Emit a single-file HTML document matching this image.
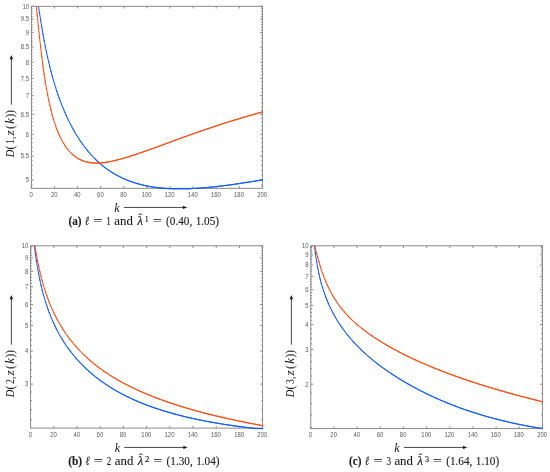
<!DOCTYPE html>
<html lang="en"><head><meta charset="utf-8"><title>Figure</title>
<style>
html,body{margin:0;padding:0;background:#fff}
body{width:550px;height:472px;overflow:hidden}
svg{display:block}
.tk{font-family:"Liberation Sans",sans-serif;font-size:6.3px;fill:#585858}
.yl{font-family:"Liberation Serif",serif;font-size:12.2px;fill:#1a1a1a;font-style:italic}
.cap{font-family:"Liberation Serif",serif;font-size:12.4px;fill:#1a1a1a;stroke:#1a1a1a;stroke-width:0.12px}
.ax{stroke:#7e7e7e;stroke-width:0.9;fill:none}
.cv{fill:none;stroke-width:1.0;stroke-linejoin:round;stroke-linecap:butt}
</style></head><body>
<svg width="550" height="472" viewBox="0 0 550 472">
<rect width="550" height="472" fill="#fff"/>
<defs><marker id="mb" viewBox="-1 -1 2 2" markerWidth="2" markerHeight="2" markerUnits="userSpaceOnUse" refX="0" refY="0"><circle r="0.7" fill="#0d5bff"/></marker><marker id="mr" viewBox="-1 -1 2 2" markerWidth="2" markerHeight="2" markerUnits="userSpaceOnUse" refX="0" refY="0"><circle r="0.7" fill="#ff4a0d"/></marker></defs>
<g>
<path class="ax" d="M31.40,188.30v-2.2 M31.40,6.30v2.2 M54.50,188.30v-2.2 M54.50,6.30v2.2 M77.60,188.30v-2.2 M77.60,6.30v2.2 M100.70,188.30v-2.2 M100.70,6.30v2.2 M123.80,188.30v-2.2 M123.80,6.30v2.2 M146.90,188.30v-2.2 M146.90,6.30v2.2 M170.00,188.30v-2.2 M170.00,6.30v2.2 M193.10,188.30v-2.2 M193.10,6.30v2.2 M216.20,188.30v-2.2 M216.20,6.30v2.2 M239.30,188.30v-2.2 M239.30,6.30v2.2 M262.40,188.30v-2.2 M262.40,6.30v2.2 M31.40,185.06h1.3 M262.40,185.06h-1.3 M31.40,179.99h2.4 M262.40,179.99h-2.4 M31.40,175.03h1.3 M262.40,175.03h-1.3 M31.40,170.17h1.3 M262.40,170.17h-1.3 M31.40,165.39h1.3 M262.40,165.39h-1.3 M31.40,160.71h1.3 M262.40,160.71h-1.3 M31.40,156.11h2.4 M262.40,156.11h-2.4 M31.40,151.60h1.3 M262.40,151.60h-1.3 M31.40,147.16h1.3 M262.40,147.16h-1.3 M31.40,142.80h1.3 M262.40,142.80h-1.3 M31.40,138.52h1.3 M262.40,138.52h-1.3 M31.40,134.31h2.4 M262.40,134.31h-2.4 M31.40,130.16h1.3 M262.40,130.16h-1.3 M31.40,126.09h1.3 M262.40,126.09h-1.3 M31.40,122.08h1.3 M262.40,122.08h-1.3 M31.40,118.13h1.3 M262.40,118.13h-1.3 M31.40,114.25h2.4 M262.40,114.25h-2.4 M31.40,110.42h1.3 M262.40,110.42h-1.3 M31.40,106.65h1.3 M262.40,106.65h-1.3 M31.40,102.94h1.3 M262.40,102.94h-1.3 M31.40,99.28h1.3 M262.40,99.28h-1.3 M31.40,95.68h2.4 M262.40,95.68h-2.4 M31.40,92.12h1.3 M262.40,92.12h-1.3 M31.40,88.62h1.3 M262.40,88.62h-1.3 M31.40,85.16h1.3 M262.40,85.16h-1.3 M31.40,81.75h1.3 M262.40,81.75h-1.3 M31.40,78.39h2.4 M262.40,78.39h-2.4 M31.40,75.07h1.3 M262.40,75.07h-1.3 M31.40,71.79h1.3 M262.40,71.79h-1.3 M31.40,68.56h1.3 M262.40,68.56h-1.3 M31.40,65.37h1.3 M262.40,65.37h-1.3 M31.40,62.22h2.4 M262.40,62.22h-2.4 M31.40,59.10h1.3 M262.40,59.10h-1.3 M31.40,56.03h1.3 M262.40,56.03h-1.3 M31.40,52.99h1.3 M262.40,52.99h-1.3 M31.40,49.99h1.3 M262.40,49.99h-1.3 M31.40,47.03h2.4 M262.40,47.03h-2.4 M31.40,44.09h1.3 M262.40,44.09h-1.3 M31.40,41.20h1.3 M262.40,41.20h-1.3 M31.40,38.33h1.3 M262.40,38.33h-1.3 M31.40,35.50h1.3 M262.40,35.50h-1.3 M31.40,32.70h2.4 M262.40,32.70h-2.4 M31.40,29.93h1.3 M262.40,29.93h-1.3 M31.40,27.19h1.3 M262.40,27.19h-1.3 M31.40,24.49h1.3 M262.40,24.49h-1.3 M31.40,21.81h1.3 M262.40,21.81h-1.3 M31.40,19.15h2.4 M262.40,19.15h-2.4 M31.40,16.53h1.3 M262.40,16.53h-1.3 M31.40,13.93h1.3 M262.40,13.93h-1.3 M31.40,11.36h1.3 M262.40,11.36h-1.3 M31.40,8.82h1.3 M262.40,8.82h-1.3 M31.40,6.30h2.4 M262.40,6.30h-2.4"/>
<rect class="ax" x="31.40" y="6.30" width="231.00" height="182.00"/>
<path class="cv" stroke="#0d5bff" marker-mid="url(#mb)" marker-end="url(#mb)" d="M38.40,6.30 L39.48,12.52 L40.64,20.10 L41.79,27.25 L42.95,33.99 L44.10,40.33 L45.26,46.30 L46.41,51.93 L47.57,57.25 L48.72,62.28 L49.88,67.05 L51.03,71.58 L52.19,75.88 L53.34,79.98 L54.50,83.89 L55.65,87.63 L56.81,91.20 L57.96,94.62 L59.12,97.90 L60.27,101.04 L61.43,104.07 L62.58,106.97 L63.74,109.77 L64.89,112.47 L66.05,115.07 L67.20,117.58 L68.36,120.00 L69.51,122.34 L70.67,124.61 L71.82,126.80 L72.98,128.92 L74.13,130.98 L75.29,132.97 L76.44,134.90 L77.60,136.77 L78.75,138.58 L79.91,140.33 L81.06,142.03 L82.22,143.68 L83.38,145.27 L84.53,146.82 L85.68,148.32 L86.84,149.77 L87.99,151.18 L89.15,152.55 L90.30,153.87 L91.46,155.15 L92.61,156.40 L93.77,157.60 L94.92,158.77 L96.08,159.91 L97.23,161.00 L98.39,162.07 L99.54,163.10 L100.70,164.10 L101.85,165.07 L103.01,166.01 L104.16,166.92 L105.32,167.81 L106.47,168.66 L107.63,169.49 L108.78,170.30 L109.94,171.07 L111.09,171.83 L112.25,172.56 L113.40,173.26 L114.56,173.95 L115.71,174.61 L116.87,175.25 L118.02,175.87 L119.18,176.47 L120.33,177.05 L121.49,177.61 L122.64,178.15 L123.80,178.67 L124.95,179.17 L126.11,179.66 L127.26,180.13 L128.42,180.59 L129.57,181.02 L130.73,181.45 L131.88,181.85 L133.04,182.24 L134.19,182.62 L135.35,182.98 L136.50,183.33 L137.66,183.67 L138.81,183.99 L139.97,184.30 L141.12,184.60 L142.28,184.88 L143.43,185.15 L144.59,185.42 L145.74,185.66 L146.90,185.90 L148.05,186.13 L149.21,186.35 L150.36,186.55 L151.52,186.75 L152.67,186.93 L153.83,187.11 L154.98,187.28 L156.14,187.43 L157.29,187.58 L158.45,187.72 L159.60,187.85 L160.76,187.97 L161.91,188.08 L163.07,188.19 L164.22,188.28 L165.38,188.37 L166.53,188.45 L167.69,188.52 L168.84,188.59 L170.00,188.64 L171.15,188.70 L172.31,188.70 L173.46,188.70 L174.62,188.70 L175.77,188.70 L176.93,188.70 L178.08,188.70 L179.24,188.70 L180.39,188.70 L181.55,188.70 L182.70,188.70 L183.86,188.70 L185.01,188.70 L186.17,188.70 L187.32,188.70 L188.48,188.70 L189.63,188.66 L190.79,188.61 L191.94,188.56 L193.10,188.51 L194.25,188.44 L195.41,188.38 L196.56,188.31 L197.72,188.24 L198.87,188.16 L200.03,188.08 L201.18,187.99 L202.34,187.90 L203.49,187.81 L204.65,187.72 L205.80,187.62 L206.96,187.52 L208.11,187.41 L209.27,187.30 L210.42,187.19 L211.58,187.07 L212.73,186.96 L213.89,186.83 L215.04,186.71 L216.20,186.58 L217.35,186.45 L218.51,186.32 L219.66,186.19 L220.82,186.05 L221.97,185.91 L223.13,185.77 L224.28,185.62 L225.44,185.48 L226.59,185.33 L227.75,185.18 L228.90,185.02 L230.06,184.87 L231.21,184.71 L232.37,184.55 L233.52,184.39 L234.68,184.22 L235.83,184.06 L236.99,183.89 L238.14,183.72 L239.30,183.55 L240.45,183.38 L241.61,183.20 L242.76,183.03 L243.92,182.85 L245.07,182.67 L246.23,182.49 L247.38,182.31 L248.54,182.12 L249.69,181.94 L250.85,181.75 L252.00,181.56 L253.16,181.37 L254.31,181.18 L255.47,180.99 L256.62,180.80 L257.78,180.60 L258.93,180.41 L260.09,180.21 L261.24,180.01 L262.40,179.81"/>
<path class="cv" stroke="#ff4a0d" marker-mid="url(#mr)" marker-end="url(#mr)" d="M36.20,6.30 L37.17,14.32 L38.33,25.70 L39.48,36.79 L40.64,47.22 L41.79,56.89 L42.95,65.78 L44.10,73.93 L45.26,81.39 L46.41,88.22 L47.57,94.48 L48.72,100.22 L49.88,105.48 L51.03,110.30 L52.19,114.74 L53.34,118.80 L54.50,122.54 L55.65,125.98 L56.81,129.14 L57.96,132.06 L59.12,134.75 L60.27,137.24 L61.43,139.54 L62.58,141.66 L63.74,143.62 L64.89,145.44 L66.05,147.12 L67.20,148.68 L68.36,150.12 L69.51,151.44 L70.67,152.67 L71.82,153.80 L72.98,154.84 L74.13,155.80 L75.29,156.67 L76.44,157.48 L77.60,158.21 L78.75,158.88 L79.91,159.49 L81.06,160.04 L82.22,160.53 L83.38,160.97 L84.53,161.36 L85.68,161.70 L86.84,162.00 L87.99,162.26 L89.15,162.48 L90.30,162.65 L91.46,162.80 L92.61,162.90 L93.77,162.98 L94.92,163.03 L96.08,163.04 L97.23,163.04 L98.39,163.00 L99.54,162.94 L100.70,162.87 L101.85,162.77 L103.01,162.65 L104.16,162.51 L105.32,162.36 L106.47,162.18 L107.63,162.00 L108.78,161.80 L109.94,161.58 L111.09,161.35 L112.25,161.11 L113.40,160.86 L114.56,160.60 L115.71,160.33 L116.87,160.05 L118.02,159.75 L119.18,159.45 L120.33,159.15 L121.49,158.83 L122.64,158.51 L123.80,158.18 L124.95,157.84 L126.11,157.50 L127.26,157.15 L128.42,156.79 L129.57,156.43 L130.73,156.07 L131.88,155.70 L133.04,155.33 L134.19,154.95 L135.35,154.57 L136.50,154.18 L137.66,153.80 L138.81,153.40 L139.97,153.01 L141.12,152.61 L142.28,152.21 L143.43,151.81 L144.59,151.41 L145.74,151.00 L146.90,150.59 L148.05,150.18 L149.21,149.77 L150.36,149.35 L151.52,148.94 L152.67,148.52 L153.83,148.10 L154.98,147.68 L156.14,147.26 L157.29,146.84 L158.45,146.42 L159.60,146.00 L160.76,145.58 L161.91,145.15 L163.07,144.73 L164.22,144.30 L165.38,143.88 L166.53,143.45 L167.69,143.03 L168.84,142.60 L170.00,142.18 L171.15,141.75 L172.31,141.33 L173.46,140.90 L174.62,140.48 L175.77,140.06 L176.93,139.63 L178.08,139.21 L179.24,138.79 L180.39,138.37 L181.55,137.95 L182.70,137.53 L183.86,137.11 L185.01,136.70 L186.17,136.28 L187.32,135.87 L188.48,135.45 L189.63,135.04 L190.79,134.63 L191.94,134.22 L193.10,133.81 L194.25,133.40 L195.41,132.99 L196.56,132.59 L197.72,132.18 L198.87,131.78 L200.03,131.38 L201.18,130.98 L202.34,130.58 L203.49,130.18 L204.65,129.78 L205.80,129.39 L206.96,129.00 L208.11,128.60 L209.27,128.21 L210.42,127.83 L211.58,127.44 L212.73,127.05 L213.89,126.67 L215.04,126.29 L216.20,125.91 L217.35,125.53 L218.51,125.15 L219.66,124.77 L220.82,124.40 L221.97,124.03 L223.13,123.65 L224.28,123.28 L225.44,122.92 L226.59,122.55 L227.75,122.18 L228.90,121.82 L230.06,121.46 L231.21,121.10 L232.37,120.74 L233.52,120.39 L234.68,120.03 L235.83,119.68 L236.99,119.33 L238.14,118.98 L239.30,118.63 L240.45,118.28 L241.61,117.94 L242.76,117.59 L243.92,117.25 L245.07,116.91 L246.23,116.57 L247.38,116.24 L248.54,115.90 L249.69,115.57 L250.85,115.24 L252.00,114.91 L253.16,114.58 L254.31,114.25 L255.47,113.93 L256.62,113.60 L257.78,113.28 L258.93,112.96 L260.09,112.64 L261.24,112.32 L262.40,112.01"/>
<text class="tk" x="29.44" y="196.80" textLength="3.31" lengthAdjust="spacingAndGlyphs">0</text>
<text class="tk" x="50.89" y="196.80" textLength="6.62" lengthAdjust="spacingAndGlyphs">20</text>
<text class="tk" x="73.99" y="196.80" textLength="6.62" lengthAdjust="spacingAndGlyphs">40</text>
<text class="tk" x="97.09" y="196.80" textLength="6.62" lengthAdjust="spacingAndGlyphs">60</text>
<text class="tk" x="120.19" y="196.80" textLength="6.62" lengthAdjust="spacingAndGlyphs">80</text>
<text class="tk" x="141.63" y="196.80" textLength="9.93" lengthAdjust="spacingAndGlyphs">100</text>
<text class="tk" x="164.73" y="196.80" textLength="9.93" lengthAdjust="spacingAndGlyphs">120</text>
<text class="tk" x="187.83" y="196.80" textLength="9.93" lengthAdjust="spacingAndGlyphs">140</text>
<text class="tk" x="210.93" y="196.80" textLength="9.93" lengthAdjust="spacingAndGlyphs">160</text>
<text class="tk" x="234.03" y="196.80" textLength="9.93" lengthAdjust="spacingAndGlyphs">180</text>
<text class="tk" x="257.13" y="196.80" textLength="9.93" lengthAdjust="spacingAndGlyphs">200</text>
<text class="tk" x="22.48" y="8.60" textLength="6.62" lengthAdjust="spacingAndGlyphs">10</text>
<text class="tk" x="20.82" y="21.45" textLength="8.28" lengthAdjust="spacingAndGlyphs">9.5</text>
<text class="tk" x="25.79" y="35.00" textLength="3.31" lengthAdjust="spacingAndGlyphs">9</text>
<text class="tk" x="20.82" y="49.33" textLength="8.28" lengthAdjust="spacingAndGlyphs">8.5</text>
<text class="tk" x="25.79" y="64.52" textLength="3.31" lengthAdjust="spacingAndGlyphs">8</text>
<text class="tk" x="20.82" y="80.69" textLength="8.28" lengthAdjust="spacingAndGlyphs">7.5</text>
<text class="tk" x="25.79" y="97.98" textLength="3.31" lengthAdjust="spacingAndGlyphs">7</text>
<text class="tk" x="20.82" y="116.55" textLength="8.28" lengthAdjust="spacingAndGlyphs">6.5</text>
<text class="tk" x="25.79" y="136.61" textLength="3.31" lengthAdjust="spacingAndGlyphs">6</text>
<text class="tk" x="20.82" y="158.41" textLength="8.28" lengthAdjust="spacingAndGlyphs">5.5</text>
<text class="tk" x="25.79" y="182.29" textLength="3.31" lengthAdjust="spacingAndGlyphs">5</text>
<text class="yl" transform="translate(14.20,157.30) rotate(-90)"><tspan x="0" textLength="7.6" lengthAdjust="spacingAndGlyphs">D</tspan><tspan x="7.9" textLength="4.0" lengthAdjust="spacingAndGlyphs" font-style="normal" font-size="13.2px">(</tspan><tspan x="13.2" textLength="4.8" lengthAdjust="spacingAndGlyphs" font-style="normal">1</tspan><tspan x="18.3" textLength="2.4" lengthAdjust="spacingAndGlyphs" font-style="normal">,</tspan><tspan x="21.7" textLength="5.2" lengthAdjust="spacingAndGlyphs">z</tspan><tspan x="28.4" textLength="4.0" lengthAdjust="spacingAndGlyphs" font-style="normal" font-size="13.2px">(</tspan><tspan x="33.6" textLength="5.7" lengthAdjust="spacingAndGlyphs">k</tspan><tspan x="39.6" textLength="4.0" lengthAdjust="spacingAndGlyphs" font-style="normal" font-size="13.2px">)</tspan><tspan x="43.4" textLength="4.0" lengthAdjust="spacingAndGlyphs" font-style="normal" font-size="13.2px">)</tspan></text>
<path d="M11.35,104.70V58.00" stroke="#333333" stroke-width="0.9" fill="none"/>
<path d="M11.35,55.00l-1.75,4.3h3.5z" fill="#1a1a1a"/>
<text class="yl" x="114.20" y="211.90">k</text>
<path d="M123.80,207.45H184.20" stroke="#333333" stroke-width="0.9" fill="none"/>
<path d="M187.20,207.45l-4.3,-1.6v3.2z" fill="#1a1a1a"/>
<text class="cap" y="225.30"><tspan x="68.40" textLength="13.1" lengthAdjust="spacingAndGlyphs" font-weight="bold">(a)</tspan> <tspan x="84.90" textLength="4.2" lengthAdjust="spacingAndGlyphs" font-style="italic">ℓ</tspan> <tspan x="93.30" textLength="9.2" lengthAdjust="spacingAndGlyphs">=</tspan> <tspan x="106.30" textLength="4.6" lengthAdjust="spacingAndGlyphs">1</tspan> <tspan x="114.30" textLength="18.5" lengthAdjust="spacingAndGlyphs">and</tspan> <tspan x="137.20" font-style="italic" font-size="13px">λ</tspan><tspan x="138.60" y="221.30" font-size="10.5px">ˆ</tspan><tspan x="144.60" y="221.60" font-size="8.8px">1</tspan> <tspan x="153.00" y="225.30" textLength="8.8" lengthAdjust="spacingAndGlyphs">=</tspan> <tspan x="166.10" textLength="26.2" lengthAdjust="spacingAndGlyphs">(0.40,</tspan> <tspan x="195.70" textLength="23.4" lengthAdjust="spacingAndGlyphs">1.05)</tspan></text>
</g>
<g>
<path class="ax" d="M30.60,428.10v-2.2 M30.60,245.80v2.2 M53.80,428.10v-2.2 M53.80,245.80v2.2 M77.00,428.10v-2.2 M77.00,245.80v2.2 M100.20,428.10v-2.2 M100.20,245.80v2.2 M123.40,428.10v-2.2 M123.40,245.80v2.2 M146.60,428.10v-2.2 M146.60,245.80v2.2 M169.80,428.10v-2.2 M169.80,245.80v2.2 M193.00,428.10v-2.2 M193.00,245.80v2.2 M216.20,428.10v-2.2 M216.20,245.80v2.2 M239.40,428.10v-2.2 M239.40,245.80v2.2 M262.60,428.10v-2.2 M262.60,245.80v2.2 M30.60,419.73h1.3 M262.60,419.73h-1.3 M30.60,409.73h1.3 M262.60,409.73h-1.3 M30.60,400.54h1.3 M262.60,400.54h-1.3 M30.60,392.03h1.3 M262.60,392.03h-1.3 M30.60,384.10h2.4 M262.60,384.10h-2.4 M30.60,376.69h1.3 M262.60,376.69h-1.3 M30.60,369.72h1.3 M262.60,369.72h-1.3 M30.60,363.16h1.3 M262.60,363.16h-1.3 M30.60,356.95h1.3 M262.60,356.95h-1.3 M30.60,351.06h2.4 M262.60,351.06h-2.4 M30.60,345.45h1.3 M262.60,345.45h-1.3 M30.60,340.11h1.3 M262.60,340.11h-1.3 M30.60,335.00h1.3 M262.60,335.00h-1.3 M30.60,330.11h1.3 M262.60,330.11h-1.3 M30.60,325.42h2.4 M262.60,325.42h-2.4 M30.60,320.92h1.3 M262.60,320.92h-1.3 M30.60,316.58h1.3 M262.60,316.58h-1.3 M30.60,312.40h1.3 M262.60,312.40h-1.3 M30.60,308.37h1.3 M262.60,308.37h-1.3 M30.60,304.48h2.4 M262.60,304.48h-2.4 M30.60,300.71h1.3 M262.60,300.71h-1.3 M30.60,297.07h1.3 M262.60,297.07h-1.3 M30.60,293.53h1.3 M262.60,293.53h-1.3 M30.60,290.10h1.3 M262.60,290.10h-1.3 M30.60,286.77h2.4 M262.60,286.77h-2.4 M30.60,283.54h1.3 M262.60,283.54h-1.3 M30.60,280.39h1.3 M262.60,280.39h-1.3 M30.60,277.32h1.3 M262.60,277.32h-1.3 M30.60,274.34h1.3 M262.60,274.34h-1.3 M30.60,271.43h2.4 M262.60,271.43h-2.4 M30.60,268.60h1.3 M262.60,268.60h-1.3 M30.60,265.83h1.3 M262.60,265.83h-1.3 M30.60,263.13h1.3 M262.60,263.13h-1.3 M30.60,260.48h1.3 M262.60,260.48h-1.3 M30.60,257.90h2.4 M262.60,257.90h-2.4 M30.60,255.38h1.3 M262.60,255.38h-1.3 M30.60,252.91h1.3 M262.60,252.91h-1.3 M30.60,250.49h1.3 M262.60,250.49h-1.3 M30.60,248.12h1.3 M262.60,248.12h-1.3 M30.60,245.80h2.4 M262.60,245.80h-2.4"/>
<rect class="ax" x="30.60" y="245.80" width="232.00" height="182.30"/>
<path class="cv" stroke="#0d5bff" marker-mid="url(#mb)" marker-end="url(#mb)" d="M34.40,245.80 L35.24,252.58 L36.40,260.75 L37.56,267.91 L38.72,274.28 L39.88,280.01 L41.04,285.21 L42.20,289.98 L43.36,294.38 L44.52,298.46 L45.68,302.27 L46.84,305.84 L48.00,309.19 L49.16,312.36 L50.32,315.35 L51.48,318.20 L52.64,320.90 L53.80,323.49 L54.96,325.95 L56.12,328.32 L57.28,330.58 L58.44,332.76 L59.60,334.85 L60.76,336.87 L61.92,338.82 L63.08,340.70 L64.24,342.51 L65.40,344.27 L66.56,345.97 L67.72,347.63 L68.88,349.23 L70.04,350.78 L71.20,352.30 L72.36,353.77 L73.52,355.20 L74.68,356.59 L75.84,357.95 L77.00,359.27 L78.16,360.57 L79.32,361.83 L80.48,363.06 L81.64,364.26 L82.80,365.44 L83.96,366.59 L85.12,367.71 L86.28,368.82 L87.44,369.89 L88.60,370.95 L89.76,371.98 L90.92,372.99 L92.08,373.98 L93.24,374.95 L94.40,375.90 L95.56,376.83 L96.72,377.75 L97.88,378.64 L99.04,379.52 L100.20,380.38 L101.36,381.23 L102.52,382.05 L103.68,382.87 L104.84,383.67 L106.00,384.45 L107.16,385.22 L108.32,385.98 L109.48,386.72 L110.64,387.45 L111.80,388.16 L112.96,388.87 L114.12,389.56 L115.28,390.24 L116.44,390.91 L117.60,391.57 L118.76,392.21 L119.92,392.85 L121.08,393.47 L122.24,394.09 L123.40,394.69 L124.56,395.29 L125.72,395.87 L126.88,396.45 L128.04,397.01 L129.20,397.57 L130.36,398.12 L131.52,398.66 L132.68,399.19 L133.84,399.72 L135.00,400.23 L136.16,400.74 L137.32,401.24 L138.48,401.73 L139.64,402.22 L140.80,402.69 L141.96,403.17 L143.12,403.63 L144.28,404.09 L145.44,404.54 L146.60,404.98 L147.76,405.42 L148.92,405.85 L150.08,406.27 L151.24,406.69 L152.40,407.10 L153.56,407.51 L154.72,407.91 L155.88,408.31 L157.04,408.70 L158.20,409.08 L159.36,409.46 L160.52,409.84 L161.68,410.20 L162.84,410.57 L164.00,410.93 L165.16,411.28 L166.32,411.63 L167.48,411.97 L168.64,412.31 L169.80,412.65 L170.96,412.98 L172.12,413.31 L173.28,413.63 L174.44,413.94 L175.60,414.26 L176.76,414.57 L177.92,414.87 L179.08,415.17 L180.24,415.47 L181.40,415.76 L182.56,416.05 L183.72,416.34 L184.88,416.62 L186.04,416.90 L187.20,417.17 L188.36,417.44 L189.52,417.71 L190.68,417.98 L191.84,418.24 L193.00,418.49 L194.16,418.75 L195.32,419.00 L196.48,419.25 L197.64,419.49 L198.80,419.73 L199.96,419.97 L201.12,420.21 L202.28,420.44 L203.44,420.67 L204.60,420.89 L205.76,421.12 L206.92,421.34 L208.08,421.56 L209.24,421.77 L210.40,421.98 L211.56,422.19 L212.72,422.40 L213.88,422.61 L215.04,422.81 L216.20,423.01 L217.36,423.21 L218.52,423.40 L219.68,423.59 L220.84,423.78 L222.00,423.97 L223.16,424.16 L224.32,424.34 L225.48,424.52 L226.64,424.70 L227.80,424.87 L228.96,425.05 L230.12,425.22 L231.28,425.39 L232.44,425.56 L233.60,425.72 L234.76,425.89 L235.92,426.05 L237.08,426.21 L238.24,426.36 L239.40,426.52 L240.56,426.67 L241.72,426.83 L242.88,426.97 L244.04,427.12 L245.20,427.27 L246.36,427.41 L247.52,427.56 L248.68,427.70 L249.84,427.83 L251.00,427.97 L252.16,428.11 L253.32,428.24 L254.48,428.37 L255.64,428.50 L256.80,428.50 L257.96,428.50 L259.12,428.50 L260.28,428.50 L261.44,428.50 L262.60,428.50"/>
<path class="cv" stroke="#ff4a0d" marker-mid="url(#mr)" marker-end="url(#mr)" d="M34.90,245.80 L35.24,247.88 L36.40,254.62 L37.56,260.79 L38.72,266.43 L39.88,271.60 L41.04,276.37 L42.20,280.79 L43.36,284.90 L44.52,288.74 L45.68,292.35 L46.84,295.74 L48.00,298.95 L49.16,301.98 L50.32,304.87 L51.48,307.61 L52.64,310.23 L53.80,312.73 L54.96,315.13 L56.12,317.42 L57.28,319.63 L58.44,321.75 L59.60,323.79 L60.76,325.76 L61.92,327.67 L63.08,329.50 L64.24,331.28 L65.40,333.00 L66.56,334.67 L67.72,336.29 L68.88,337.86 L70.04,339.39 L71.20,340.87 L72.36,342.31 L73.52,343.72 L74.68,345.09 L75.84,346.42 L77.00,347.72 L78.16,348.99 L79.32,350.23 L80.48,351.44 L81.64,352.62 L82.80,353.77 L83.96,354.90 L85.12,356.01 L86.28,357.09 L87.44,358.15 L88.60,359.19 L89.76,360.20 L90.92,361.20 L92.08,362.17 L93.24,363.13 L94.40,364.07 L95.56,364.99 L96.72,365.90 L97.88,366.78 L99.04,367.66 L100.20,368.51 L101.36,369.36 L102.52,370.18 L103.68,371.00 L104.84,371.80 L106.00,372.58 L107.16,373.36 L108.32,374.12 L109.48,374.87 L110.64,375.61 L111.80,376.33 L112.96,377.05 L114.12,377.75 L115.28,378.45 L116.44,379.13 L117.60,379.81 L118.76,380.47 L119.92,381.13 L121.08,381.77 L122.24,382.41 L123.40,383.03 L124.56,383.65 L125.72,384.26 L126.88,384.87 L128.04,385.46 L129.20,386.05 L130.36,386.63 L131.52,387.20 L132.68,387.76 L133.84,388.32 L135.00,388.87 L136.16,389.41 L137.32,389.95 L138.48,390.48 L139.64,391.01 L140.80,391.52 L141.96,392.03 L143.12,392.54 L144.28,393.04 L145.44,393.53 L146.60,394.02 L147.76,394.51 L148.92,394.98 L150.08,395.45 L151.24,395.92 L152.40,396.38 L153.56,396.84 L154.72,397.29 L155.88,397.74 L157.04,398.18 L158.20,398.62 L159.36,399.05 L160.52,399.48 L161.68,399.90 L162.84,400.32 L164.00,400.74 L165.16,401.15 L166.32,401.55 L167.48,401.96 L168.64,402.36 L169.80,402.75 L170.96,403.14 L172.12,403.53 L173.28,403.91 L174.44,404.29 L175.60,404.67 L176.76,405.04 L177.92,405.41 L179.08,405.78 L180.24,406.14 L181.40,406.50 L182.56,406.86 L183.72,407.21 L184.88,407.56 L186.04,407.90 L187.20,408.25 L188.36,408.59 L189.52,408.92 L190.68,409.26 L191.84,409.59 L193.00,409.92 L194.16,410.24 L195.32,410.57 L196.48,410.89 L197.64,411.20 L198.80,411.52 L199.96,411.83 L201.12,412.14 L202.28,412.45 L203.44,412.75 L204.60,413.05 L205.76,413.35 L206.92,413.65 L208.08,413.94 L209.24,414.24 L210.40,414.53 L211.56,414.81 L212.72,415.10 L213.88,415.38 L215.04,415.66 L216.20,415.94 L217.36,416.22 L218.52,416.49 L219.68,416.77 L220.84,417.04 L222.00,417.31 L223.16,417.57 L224.32,417.84 L225.48,418.10 L226.64,418.36 L227.80,418.62 L228.96,418.87 L230.12,419.13 L231.28,419.38 L232.44,419.63 L233.60,419.88 L234.76,420.13 L235.92,420.37 L237.08,420.62 L238.24,420.86 L239.40,421.10 L240.56,421.34 L241.72,421.58 L242.88,421.81 L244.04,422.04 L245.20,422.28 L246.36,422.51 L247.52,422.74 L248.68,422.96 L249.84,423.19 L251.00,423.41 L252.16,423.64 L253.32,423.86 L254.48,424.08 L255.64,424.30 L256.80,424.51 L257.96,424.73 L259.12,424.94 L260.28,425.16 L261.44,425.37 L262.60,425.58"/>
<text class="tk" x="28.64" y="436.60" textLength="3.31" lengthAdjust="spacingAndGlyphs">0</text>
<text class="tk" x="50.19" y="436.60" textLength="6.62" lengthAdjust="spacingAndGlyphs">20</text>
<text class="tk" x="73.39" y="436.60" textLength="6.62" lengthAdjust="spacingAndGlyphs">40</text>
<text class="tk" x="96.59" y="436.60" textLength="6.62" lengthAdjust="spacingAndGlyphs">60</text>
<text class="tk" x="119.79" y="436.60" textLength="6.62" lengthAdjust="spacingAndGlyphs">80</text>
<text class="tk" x="141.33" y="436.60" textLength="9.93" lengthAdjust="spacingAndGlyphs">100</text>
<text class="tk" x="164.53" y="436.60" textLength="9.93" lengthAdjust="spacingAndGlyphs">120</text>
<text class="tk" x="187.73" y="436.60" textLength="9.93" lengthAdjust="spacingAndGlyphs">140</text>
<text class="tk" x="210.93" y="436.60" textLength="9.93" lengthAdjust="spacingAndGlyphs">160</text>
<text class="tk" x="234.13" y="436.60" textLength="9.93" lengthAdjust="spacingAndGlyphs">180</text>
<text class="tk" x="257.33" y="436.60" textLength="9.93" lengthAdjust="spacingAndGlyphs">200</text>
<text class="tk" x="21.68" y="248.10" textLength="6.62" lengthAdjust="spacingAndGlyphs">10</text>
<text class="tk" x="24.99" y="260.20" textLength="3.31" lengthAdjust="spacingAndGlyphs">9</text>
<text class="tk" x="24.99" y="273.73" textLength="3.31" lengthAdjust="spacingAndGlyphs">8</text>
<text class="tk" x="24.99" y="289.07" textLength="3.31" lengthAdjust="spacingAndGlyphs">7</text>
<text class="tk" x="24.99" y="306.78" textLength="3.31" lengthAdjust="spacingAndGlyphs">6</text>
<text class="tk" x="24.99" y="327.72" textLength="3.31" lengthAdjust="spacingAndGlyphs">5</text>
<text class="tk" x="24.99" y="353.36" textLength="3.31" lengthAdjust="spacingAndGlyphs">4</text>
<text class="tk" x="24.99" y="386.40" textLength="3.31" lengthAdjust="spacingAndGlyphs">3</text>
<text class="yl" transform="translate(13.50,397.30) rotate(-90)"><tspan x="0" textLength="7.6" lengthAdjust="spacingAndGlyphs">D</tspan><tspan x="7.9" textLength="4.0" lengthAdjust="spacingAndGlyphs" font-style="normal" font-size="13.2px">(</tspan><tspan x="13.2" textLength="4.8" lengthAdjust="spacingAndGlyphs" font-style="normal">2</tspan><tspan x="18.3" textLength="2.4" lengthAdjust="spacingAndGlyphs" font-style="normal">,</tspan><tspan x="21.7" textLength="5.2" lengthAdjust="spacingAndGlyphs">z</tspan><tspan x="28.4" textLength="4.0" lengthAdjust="spacingAndGlyphs" font-style="normal" font-size="13.2px">(</tspan><tspan x="33.6" textLength="5.7" lengthAdjust="spacingAndGlyphs">k</tspan><tspan x="39.6" textLength="4.0" lengthAdjust="spacingAndGlyphs" font-style="normal" font-size="13.2px">)</tspan><tspan x="43.4" textLength="4.0" lengthAdjust="spacingAndGlyphs" font-style="normal" font-size="13.2px">)</tspan></text>
<path d="M11.35,344.70V298.00" stroke="#333333" stroke-width="0.9" fill="none"/>
<path d="M11.35,295.00l-1.75,4.3h3.5z" fill="#1a1a1a"/>
<text class="yl" x="114.70" y="451.90">k</text>
<path d="M124.30,447.45H184.70" stroke="#333333" stroke-width="0.9" fill="none"/>
<path d="M187.70,447.45l-4.3,-1.6v3.2z" fill="#1a1a1a"/>
<text class="cap" y="465.30"><tspan x="68.20" textLength="14.0" lengthAdjust="spacingAndGlyphs" font-weight="bold">(b)</tspan> <tspan x="85.40" textLength="4.2" lengthAdjust="spacingAndGlyphs" font-style="italic">ℓ</tspan> <tspan x="93.80" textLength="9.2" lengthAdjust="spacingAndGlyphs">=</tspan> <tspan x="106.80" textLength="4.6" lengthAdjust="spacingAndGlyphs">2</tspan> <tspan x="114.80" textLength="18.5" lengthAdjust="spacingAndGlyphs">and</tspan> <tspan x="137.70" font-style="italic" font-size="13px">λ</tspan><tspan x="139.10" y="461.30" font-size="10.5px">ˆ</tspan><tspan x="145.10" y="461.60" font-size="8.8px">2</tspan> <tspan x="153.50" y="465.30" textLength="8.8" lengthAdjust="spacingAndGlyphs">=</tspan> <tspan x="166.60" textLength="26.2" lengthAdjust="spacingAndGlyphs">(1.30,</tspan> <tspan x="196.20" textLength="23.4" lengthAdjust="spacingAndGlyphs">1.04)</tspan></text>
</g>
<g>
<path class="ax" d="M310.80,428.60v-2.2 M310.80,245.80v2.2 M333.96,428.60v-2.2 M333.96,245.80v2.2 M357.12,428.60v-2.2 M357.12,245.80v2.2 M380.28,428.60v-2.2 M380.28,245.80v2.2 M403.44,428.60v-2.2 M403.44,245.80v2.2 M426.60,428.60v-2.2 M426.60,245.80v2.2 M449.76,428.60v-2.2 M449.76,245.80v2.2 M472.92,428.60v-2.2 M472.92,245.80v2.2 M496.08,428.60v-2.2 M496.08,245.80v2.2 M519.24,428.60v-2.2 M519.24,245.80v2.2 M542.40,428.60v-2.2 M542.40,245.80v2.2 M310.80,428.12h1.3 M542.40,428.12h-1.3 M310.80,414.87h1.3 M542.40,414.87h-1.3 M310.80,403.38h1.3 M542.40,403.38h-1.3 M310.80,393.26h1.3 M542.40,393.26h-1.3 M310.80,384.20h2.4 M542.40,384.20h-2.4 M310.80,376.00h1.3 M542.40,376.00h-1.3 M310.80,368.52h1.3 M542.40,368.52h-1.3 M310.80,361.64h1.3 M542.40,361.64h-1.3 M310.80,355.26h1.3 M542.40,355.26h-1.3 M310.80,349.33h2.4 M542.40,349.33h-2.4 M310.80,343.78h1.3 M542.40,343.78h-1.3 M310.80,338.57h1.3 M542.40,338.57h-1.3 M310.80,333.65h1.3 M542.40,333.65h-1.3 M310.80,329.00h1.3 M542.40,329.00h-1.3 M310.80,324.59h2.4 M542.40,324.59h-2.4 M310.80,320.40h1.3 M542.40,320.40h-1.3 M310.80,316.40h1.3 M542.40,316.40h-1.3 M310.80,312.57h1.3 M542.40,312.57h-1.3 M310.80,308.91h1.3 M542.40,308.91h-1.3 M310.80,305.40h2.4 M542.40,305.40h-2.4 M310.80,302.03h1.3 M542.40,302.03h-1.3 M310.80,298.79h1.3 M542.40,298.79h-1.3 M310.80,295.66h1.3 M542.40,295.66h-1.3 M310.80,292.64h1.3 M542.40,292.64h-1.3 M310.80,289.73h2.4 M542.40,289.73h-2.4 M310.80,286.91h1.3 M542.40,286.91h-1.3 M310.80,284.18h1.3 M542.40,284.18h-1.3 M310.80,281.53h1.3 M542.40,281.53h-1.3 M310.80,278.96h1.3 M542.40,278.96h-1.3 M310.80,276.47h2.4 M542.40,276.47h-2.4 M310.80,274.05h1.3 M542.40,274.05h-1.3 M310.80,271.69h1.3 M542.40,271.69h-1.3 M310.80,269.40h1.3 M542.40,269.40h-1.3 M310.80,267.17h1.3 M542.40,267.17h-1.3 M310.80,264.99h2.4 M542.40,264.99h-2.4 M310.80,262.86h1.3 M542.40,262.86h-1.3 M310.80,260.79h1.3 M542.40,260.79h-1.3 M310.80,258.77h1.3 M542.40,258.77h-1.3 M310.80,256.79h1.3 M542.40,256.79h-1.3 M310.80,254.86h2.4 M542.40,254.86h-2.4 M310.80,252.97h1.3 M542.40,252.97h-1.3 M310.80,251.12h1.3 M542.40,251.12h-1.3 M310.80,249.31h1.3 M542.40,249.31h-1.3 M310.80,247.54h1.3 M542.40,247.54h-1.3 M310.80,245.80h2.4 M542.40,245.80h-2.4"/>
<rect class="ax" x="310.80" y="245.80" width="231.60" height="182.80"/>
<path class="cv" stroke="#0d5bff" marker-mid="url(#mb)" marker-end="url(#mb)" d="M314.40,245.80 L315.43,253.45 L316.59,261.49 L317.75,268.11 L318.91,273.76 L320.06,278.72 L321.22,283.14 L322.38,287.13 L323.54,290.79 L324.70,294.16 L325.85,297.30 L327.01,300.23 L328.17,302.99 L329.33,305.59 L330.49,308.06 L331.64,310.41 L332.80,312.65 L333.96,314.79 L335.12,316.85 L336.28,318.83 L337.43,320.73 L338.59,322.57 L339.75,324.34 L340.91,326.06 L342.07,327.72 L343.22,329.33 L344.38,330.90 L345.54,332.42 L346.70,333.90 L347.86,335.35 L349.01,336.76 L350.17,338.13 L351.33,339.47 L352.49,340.78 L353.65,342.07 L354.80,343.32 L355.96,344.55 L357.12,345.75 L358.28,346.93 L359.44,348.09 L360.59,349.23 L361.75,350.34 L362.91,351.43 L364.07,352.51 L365.23,353.57 L366.38,354.61 L367.54,355.63 L368.70,356.63 L369.86,357.62 L371.02,358.60 L372.17,359.56 L373.33,360.50 L374.49,361.44 L375.65,362.35 L376.81,363.26 L377.96,364.15 L379.12,365.03 L380.28,365.90 L381.44,366.76 L382.60,367.61 L383.75,368.45 L384.91,369.27 L386.07,370.09 L387.23,370.90 L388.39,371.69 L389.54,372.48 L390.70,373.26 L391.86,374.03 L393.02,374.79 L394.18,375.54 L395.33,376.29 L396.49,377.03 L397.65,377.75 L398.81,378.48 L399.97,379.19 L401.12,379.89 L402.28,380.59 L403.44,381.28 L404.60,381.97 L405.76,382.64 L406.91,383.31 L408.07,383.97 L409.23,384.63 L410.39,385.28 L411.55,385.92 L412.70,386.56 L413.86,387.19 L415.02,387.81 L416.18,388.43 L417.34,389.04 L418.49,389.64 L419.65,390.24 L420.81,390.84 L421.97,391.43 L423.13,392.01 L424.28,392.59 L425.44,393.16 L426.60,393.72 L427.76,394.29 L428.92,394.84 L430.07,395.39 L431.23,395.94 L432.39,396.48 L433.55,397.01 L434.71,397.54 L435.86,398.06 L437.02,398.58 L438.18,399.10 L439.34,399.60 L440.50,400.11 L441.65,400.61 L442.81,401.10 L443.97,401.59 L445.13,402.07 L446.29,402.55 L447.44,403.03 L448.60,403.49 L449.76,403.96 L450.92,404.42 L452.08,404.87 L453.23,405.32 L454.39,405.77 L455.55,406.21 L456.71,406.65 L457.87,407.08 L459.02,407.51 L460.18,407.93 L461.34,408.35 L462.50,408.76 L463.66,409.17 L464.81,409.58 L465.97,409.98 L467.13,410.38 L468.29,410.77 L469.45,411.16 L470.60,411.54 L471.76,411.92 L472.92,412.30 L474.08,412.67 L475.24,413.04 L476.39,413.40 L477.55,413.76 L478.71,414.12 L479.87,414.47 L481.03,414.82 L482.18,415.17 L483.34,415.51 L484.50,415.84 L485.66,416.18 L486.82,416.51 L487.97,416.84 L489.13,417.16 L490.29,417.48 L491.45,417.79 L492.61,418.11 L493.76,418.41 L494.92,418.72 L496.08,419.02 L497.24,419.32 L498.40,419.61 L499.55,419.91 L500.71,420.20 L501.87,420.48 L503.03,420.76 L504.19,421.04 L505.34,421.32 L506.50,421.59 L507.66,421.86 L508.82,422.12 L509.98,422.39 L511.13,422.65 L512.29,422.90 L513.45,423.16 L514.61,423.41 L515.77,423.66 L516.92,423.90 L518.08,424.14 L519.24,424.38 L520.40,424.62 L521.56,424.85 L522.71,425.09 L523.87,425.31 L525.03,425.54 L526.19,425.76 L527.35,425.98 L528.50,426.20 L529.66,426.41 L530.82,426.62 L531.98,426.83 L533.14,427.04 L534.29,427.25 L535.45,427.45 L536.61,427.65 L537.77,427.84 L538.93,428.04 L540.08,428.23 L541.24,428.42 L542.40,428.60"/>
<path class="cv" stroke="#ff4a0d" marker-mid="url(#mr)" marker-end="url(#mr)" d="M314.90,245.80 L315.43,248.74 L316.59,253.11 L317.75,257.47 L318.91,261.65 L320.06,265.57 L321.22,269.25 L322.38,272.70 L323.54,275.92 L324.70,278.93 L325.85,281.77 L327.01,284.44 L328.17,286.95 L329.33,289.32 L330.49,291.57 L331.64,293.70 L332.80,295.73 L333.96,297.67 L335.12,299.51 L336.28,301.28 L337.43,302.98 L338.59,304.61 L339.75,306.18 L340.91,307.69 L342.07,309.15 L343.22,310.56 L344.38,311.92 L345.54,313.25 L346.70,314.53 L347.86,315.77 L349.01,316.97 L350.17,318.14 L351.33,319.28 L352.49,320.39 L353.65,321.47 L354.80,322.53 L355.96,323.56 L357.12,324.56 L358.28,325.54 L359.44,326.50 L360.59,327.45 L361.75,328.37 L362.91,329.27 L364.07,330.16 L365.23,331.04 L366.38,331.89 L367.54,332.74 L368.70,333.57 L369.86,334.38 L371.02,335.19 L372.17,335.98 L373.33,336.76 L374.49,337.53 L375.65,338.29 L376.81,339.04 L377.96,339.78 L379.12,340.52 L380.28,341.24 L381.44,341.95 L382.60,342.66 L383.75,343.36 L384.91,344.05 L386.07,344.73 L387.23,345.41 L388.39,346.07 L389.54,346.73 L390.70,347.39 L391.86,348.03 L393.02,348.67 L394.18,349.31 L395.33,349.93 L396.49,350.55 L397.65,351.17 L398.81,351.78 L399.97,352.38 L401.12,352.98 L402.28,353.57 L403.44,354.15 L404.60,354.73 L405.76,355.31 L406.91,355.88 L408.07,356.44 L409.23,357.00 L410.39,357.56 L411.55,358.11 L412.70,358.65 L413.86,359.19 L415.02,359.73 L416.18,360.26 L417.34,360.79 L418.49,361.31 L419.65,361.83 L420.81,362.35 L421.97,362.86 L423.13,363.36 L424.28,363.86 L425.44,364.36 L426.60,364.86 L427.76,365.35 L428.92,365.84 L430.07,366.32 L431.23,366.80 L432.39,367.28 L433.55,367.75 L434.71,368.22 L435.86,368.68 L437.02,369.15 L438.18,369.61 L439.34,370.06 L440.50,370.52 L441.65,370.97 L442.81,371.41 L443.97,371.86 L445.13,372.30 L446.29,372.74 L447.44,373.17 L448.60,373.60 L449.76,374.03 L450.92,374.46 L452.08,374.89 L453.23,375.31 L454.39,375.73 L455.55,376.14 L456.71,376.55 L457.87,376.97 L459.02,377.37 L460.18,377.78 L461.34,378.18 L462.50,378.58 L463.66,378.98 L464.81,379.38 L465.97,379.77 L467.13,380.16 L468.29,380.55 L469.45,380.94 L470.60,381.32 L471.76,381.71 L472.92,382.09 L474.08,382.47 L475.24,382.84 L476.39,383.22 L477.55,383.59 L478.71,383.96 L479.87,384.33 L481.03,384.69 L482.18,385.06 L483.34,385.42 L484.50,385.78 L485.66,386.14 L486.82,386.49 L487.97,386.85 L489.13,387.20 L490.29,387.55 L491.45,387.90 L492.61,388.25 L493.76,388.59 L494.92,388.93 L496.08,389.28 L497.24,389.62 L498.40,389.95 L499.55,390.29 L500.71,390.63 L501.87,390.96 L503.03,391.29 L504.19,391.62 L505.34,391.95 L506.50,392.28 L507.66,392.60 L508.82,392.93 L509.98,393.25 L511.13,393.57 L512.29,393.89 L513.45,394.21 L514.61,394.53 L515.77,394.84 L516.92,395.15 L518.08,395.47 L519.24,395.78 L520.40,396.09 L521.56,396.39 L522.71,396.70 L523.87,397.01 L525.03,397.31 L526.19,397.61 L527.35,397.91 L528.50,398.21 L529.66,398.51 L530.82,398.81 L531.98,399.11 L533.14,399.40 L534.29,399.70 L535.45,399.99 L536.61,400.28 L537.77,400.57 L538.93,400.86 L540.08,401.15 L541.24,401.43 L542.40,401.72"/>
<text class="tk" x="308.84" y="437.10" textLength="3.31" lengthAdjust="spacingAndGlyphs">0</text>
<text class="tk" x="330.35" y="437.10" textLength="6.62" lengthAdjust="spacingAndGlyphs">20</text>
<text class="tk" x="353.51" y="437.10" textLength="6.62" lengthAdjust="spacingAndGlyphs">40</text>
<text class="tk" x="376.67" y="437.10" textLength="6.62" lengthAdjust="spacingAndGlyphs">60</text>
<text class="tk" x="399.83" y="437.10" textLength="6.62" lengthAdjust="spacingAndGlyphs">80</text>
<text class="tk" x="421.33" y="437.10" textLength="9.93" lengthAdjust="spacingAndGlyphs">100</text>
<text class="tk" x="444.49" y="437.10" textLength="9.93" lengthAdjust="spacingAndGlyphs">120</text>
<text class="tk" x="467.65" y="437.10" textLength="9.93" lengthAdjust="spacingAndGlyphs">140</text>
<text class="tk" x="490.81" y="437.10" textLength="9.93" lengthAdjust="spacingAndGlyphs">160</text>
<text class="tk" x="513.97" y="437.10" textLength="9.93" lengthAdjust="spacingAndGlyphs">180</text>
<text class="tk" x="537.13" y="437.10" textLength="9.93" lengthAdjust="spacingAndGlyphs">200</text>
<text class="tk" x="301.88" y="248.10" textLength="6.62" lengthAdjust="spacingAndGlyphs">10</text>
<text class="tk" x="305.19" y="257.16" textLength="3.31" lengthAdjust="spacingAndGlyphs">9</text>
<text class="tk" x="305.19" y="267.29" textLength="3.31" lengthAdjust="spacingAndGlyphs">8</text>
<text class="tk" x="305.19" y="278.77" textLength="3.31" lengthAdjust="spacingAndGlyphs">7</text>
<text class="tk" x="305.19" y="292.03" textLength="3.31" lengthAdjust="spacingAndGlyphs">6</text>
<text class="tk" x="305.19" y="307.70" textLength="3.31" lengthAdjust="spacingAndGlyphs">5</text>
<text class="tk" x="305.19" y="326.89" textLength="3.31" lengthAdjust="spacingAndGlyphs">4</text>
<text class="tk" x="305.19" y="351.63" textLength="3.31" lengthAdjust="spacingAndGlyphs">3</text>
<text class="tk" x="305.19" y="386.50" textLength="3.31" lengthAdjust="spacingAndGlyphs">2</text>
<text class="yl" transform="translate(293.50,397.30) rotate(-90)"><tspan x="0" textLength="7.6" lengthAdjust="spacingAndGlyphs">D</tspan><tspan x="7.9" textLength="4.0" lengthAdjust="spacingAndGlyphs" font-style="normal" font-size="13.2px">(</tspan><tspan x="13.2" textLength="4.8" lengthAdjust="spacingAndGlyphs" font-style="normal">3</tspan><tspan x="18.3" textLength="2.4" lengthAdjust="spacingAndGlyphs" font-style="normal">,</tspan><tspan x="21.7" textLength="5.2" lengthAdjust="spacingAndGlyphs">z</tspan><tspan x="28.4" textLength="4.0" lengthAdjust="spacingAndGlyphs" font-style="normal" font-size="13.2px">(</tspan><tspan x="33.6" textLength="5.7" lengthAdjust="spacingAndGlyphs">k</tspan><tspan x="39.6" textLength="4.0" lengthAdjust="spacingAndGlyphs" font-style="normal" font-size="13.2px">)</tspan><tspan x="43.4" textLength="4.0" lengthAdjust="spacingAndGlyphs" font-style="normal" font-size="13.2px">)</tspan></text>
<path d="M291.35,344.70V298.00" stroke="#333333" stroke-width="0.9" fill="none"/>
<path d="M291.35,295.00l-1.75,4.3h3.5z" fill="#1a1a1a"/>
<text class="yl" x="394.30" y="451.90">k</text>
<path d="M403.90,447.45H464.30" stroke="#333333" stroke-width="0.9" fill="none"/>
<path d="M467.30,447.45l-4.3,-1.6v3.2z" fill="#1a1a1a"/>
<text class="cap" y="465.30"><tspan x="349.10" textLength="12.4" lengthAdjust="spacingAndGlyphs" font-weight="bold">(c)</tspan> <tspan x="365.00" textLength="4.2" lengthAdjust="spacingAndGlyphs" font-style="italic">ℓ</tspan> <tspan x="373.40" textLength="9.2" lengthAdjust="spacingAndGlyphs">=</tspan> <tspan x="386.40" textLength="4.6" lengthAdjust="spacingAndGlyphs">3</tspan> <tspan x="394.40" textLength="18.5" lengthAdjust="spacingAndGlyphs">and</tspan> <tspan x="417.30" font-style="italic" font-size="13px">λ</tspan><tspan x="418.70" y="461.30" font-size="10.5px">ˆ</tspan><tspan x="424.70" y="461.60" font-size="8.8px">3</tspan> <tspan x="433.10" y="465.30" textLength="8.8" lengthAdjust="spacingAndGlyphs">=</tspan> <tspan x="446.20" textLength="26.2" lengthAdjust="spacingAndGlyphs">(1.64,</tspan> <tspan x="475.80" textLength="23.4" lengthAdjust="spacingAndGlyphs">1.10)</tspan></text>
</g>
</svg>
</body></html>
